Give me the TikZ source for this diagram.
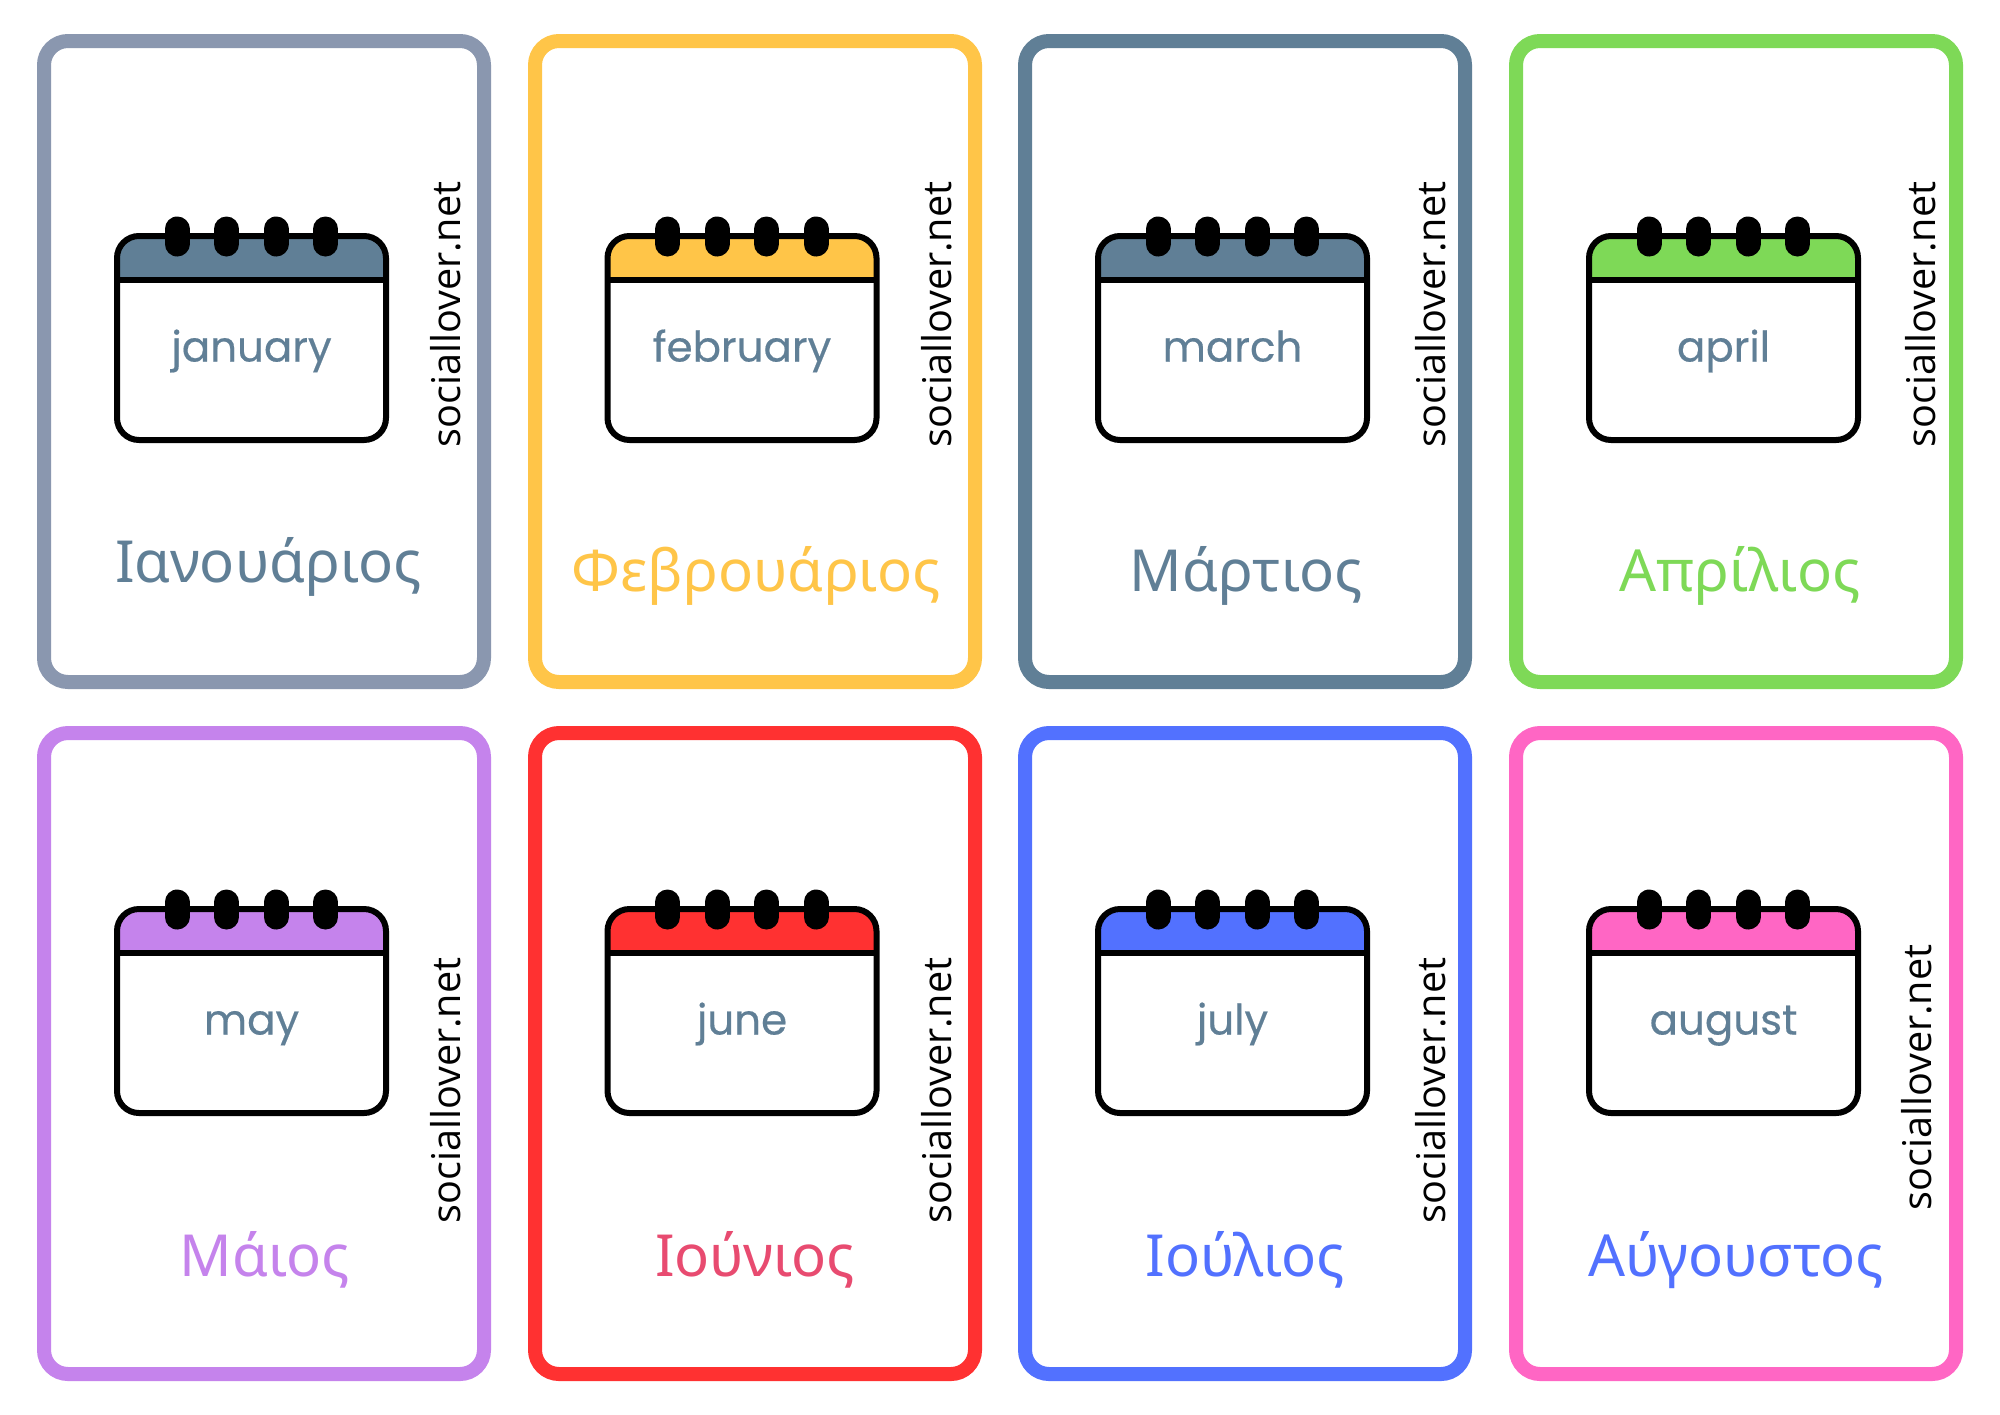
\documentclass[tikz,border=0pt]{standalone}
\usepackage{fontspec}
\setmainfont{Open Sans}
\newfontfamily\wordfont[FakeBold=0.4]{Poppins}
\newfontfamily\greekfont{Noto Sans}
\definecolor{slate}{HTML}{8A97AF}
\definecolor{steel}{HTML}{607F96}
\definecolor{amber}{HTML}{FFC548}
\definecolor{leaf}{HTML}{7ED957}
\definecolor{lilac}{HTML}{C583EC}
\definecolor{scarlet}{HTML}{FF3131}
\definecolor{royal}{HTML}{5271FF}
\definecolor{hotpink}{HTML}{FF66C4}
\definecolor{rosered}{HTML}{E84B70}
\tikzset{
  cardbox/.style={line width=7pt,rounded corners=12pt,fill=white},
  calline/.style={line width=3pt,draw=black},
  peg/.style={line width=12.5pt,line cap=round,draw=black},
  wordlabel/.style={inner sep=0pt,text=steel,font=\wordfont\fontsize{21}{21}\selectfont,anchor=base},
  greeklabel/.style={inner sep=0pt,font=\greekfont\fontsize{29}{29}\selectfont,anchor=base},
  sitelabel/.style={inner sep=0pt,text=black,font=\fontsize{19.8}{20}\selectfont,rotate=90,anchor=base west},
}
% #1 id, #2 card colour, #3 card left, #4 card top, #5 calendar left, #6 calendar top,
% #7 word, #8 greek, #9 greek colour; \hc is the header colour
\newcommand{\monthcard}[9]{%
  \draw[cardbox,draw=#2] (#3,#4) rectangle ++(440,641);
  \begin{scope}[shift={(#5,#6)}]
    \fill[\hc] (0,44) -- (0,22) .. controls (0,10) and (10,0) .. (22,0) -- (247,0) .. controls (259,0) and (269,10) .. (269,22) -- (269,44) -- cycle;
    \draw[calline,rounded corners=11pt] (0,0) rectangle (269,204);
    \draw[calline] (0,44) -- (269,44);
    \foreach \px in {60,109.5,159,208.5}{\draw[peg] (\px,-7) -- (\px,8);}
    \node[wordlabel] (w#1) at (134.5,125.5) {#7};
  \end{scope}
  \node[greeklabel,text=#9] (g#1) at (#3+220+\gx,\gy) {#8};
  \node[sitelabel] (s#1) at (\sx,\sy) {sociallover.net};
}
\begin{document}
\begin{tikzpicture}[x=0.5pt,y=-0.5pt]
\useasboundingbox (0,0) rectangle (2000,1414);
\fill[white] (0,0) rectangle (2000,1414);
\def\hc{steel}\def\gx{4.5}\def\gy{582}\def\sx{460}\def\sy{448}
\monthcard{a}{slate}{44}{41}{117}{236}{january}{Ιανουάριος}{steel}
\def\hc{amber}\def\gx{1}\def\gy{591}\def\sx{951}\def\sy{448}
\monthcard{b}{amber}{535}{41}{607.5}{236}{february}{Φεβρουάριος}{amber}
\def\hc{steel}\def\gx{1}\def\gy{591}\def\sx{1445}\def\sy{448}
\monthcard{c}{steel}{1025}{41}{1098}{236}{march}{Μάρτιος}{steel}
\def\hc{leaf}\def\gx{4}\def\gy{591}\def\sx{1935}\def\sy{448}
\monthcard{d}{leaf}{1516}{41}{1589}{236}{april}{Απρίλιος}{leaf}
\def\hc{lilac}\def\gx{1}\def\gy{1276}\def\sx{460}\def\sy{1224}
\monthcard{e}{lilac}{44}{733}{117}{909}{may}{Μάιος}{lilac}
\def\hc{scarlet}\def\gx{0}\def\gy{1276}\def\sx{951}\def\sy{1224}
\monthcard{f}{scarlet}{535}{733}{607.5}{909}{june}{Ιούνιος}{rosered}
\def\hc{royal}\def\gx{0}\def\gy{1276}\def\sx{1445}\def\sy{1224}
\monthcard{g}{royal}{1025}{733}{1098}{909}{july}{Ιούλιος}{royal}
\def\hc{hotpink}\def\gx{0}\def\gy{1276}\def\sx{1931}\def\sy{1211}
\monthcard{h}{hotpink}{1516}{733}{1589}{909}{august}{Αύγουστος}{royal}
\end{tikzpicture}
\end{document}
